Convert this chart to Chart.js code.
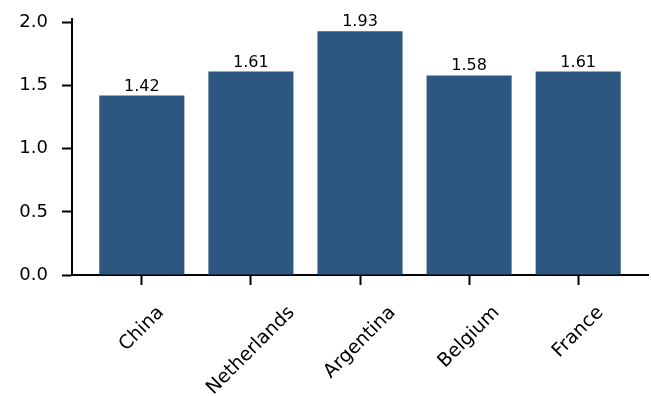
<!DOCTYPE html>
<html>
<head>
<meta charset="utf-8">
<script src="https://cdn.jsdelivr.net/npm/chart.js@4/dist/chart.umd.min.js"></script>
<style>
  html, body { margin: 0; padding: 0; background: #fff; }
  #chart { display: block; }
</style>
</head>
<body>
<canvas id="chart" width="651" height="396"></canvas>
<script>
// data
const countries = ['China', 'Netherlands', 'Argentina', 'Belgium', 'France'];
const values = [1.42, 1.61, 1.93, 1.58, 1.61];
const yTicks = [0, 0.5, 1.0, 1.5, 2.0];

const barColor = '#2b5781';
const fontFamily = '"DejaVu Sans", sans-serif';

// value labels above each bar
const valueLabels = {
    id: 'valueLabels',
    afterDatasetsDraw(chart) {
        const ctx = chart.ctx;
        const meta = chart.getDatasetMeta(0);
        ctx.save();
        ctx.font = '16px ' + fontFamily;
        ctx.fillStyle = '#000';
        ctx.textAlign = 'center';
        ctx.textBaseline = 'alphabetic';
        meta.data.forEach(function(bar, i) {
            ctx.fillText(values[i].toFixed(2), bar.x, bar.y - 5);
        });
        ctx.restore();
    }
};

// rotated category labels, centred under the tick like matplotlib
const rotatedLabels = {
    id: 'rotatedLabels',
    afterDraw(chart) {
        const ctx = chart.ctx;
        const xScale = chart.scales.x;
        const top = chart.chartArea.bottom + 28;
        const h = 19;
        ctx.save();
        ctx.font = '19px ' + fontFamily;
        ctx.fillStyle = '#000';
        ctx.textAlign = 'center';
        ctx.textBaseline = 'middle';
        countries.forEach(function(name, i) {
            const w = ctx.measureText(name).width;
            const side = (w + h) * Math.SQRT1_2;
            const x = xScale.getPixelForValue(i);
            ctx.save();
            ctx.translate(x, top + side / 2);
            ctx.rotate(-Math.PI / 4);
            ctx.fillText(name, 0, 0);
            ctx.restore();
        });
        ctx.restore();
    }
};

const chart = new Chart(document.getElementById('chart'), {
    type: 'bar',
    data: {
        datasets: [{
            data: countries.map(function(c, i) { return { x: i, y: values[i] }; }),
            backgroundColor: barColor,
            borderWidth: 0,
            categoryPercentage: 0.78,
            barPercentage: 1.0
        }]
    },
    options: {
        responsive: false,
        animation: false,
        layout: { padding: { top: 19, right: 3, left: 0, bottom: 0 } },
        plugins: {
            legend: { display: false },
            tooltip: { enabled: false }
        },
        scales: {
            x: {
                type: 'linear',
                offset: false,
                min: -0.64,
                max: 4.64,
                afterFit: function(scale) { scale.height = 121; },
                afterBuildTicks: function(scale) {
                    scale.ticks = countries.map(function(c, i) { return { value: i }; });
                },
                border: { display: true, color: '#000', width: 2 },
                grid: {
                    offset: false,
                    drawOnChartArea: false,
                    drawTicks: true,
                    tickLength: 10,
                    tickWidth: 2,
                    tickColor: '#000'
                },
                ticks: { display: false }
            },
            y: {
                min: 0,
                max: 2.0265,
                afterFit: function(scale) {
                    scale.width = 72;
                    // don't let the top label push the plot down
                    scale.paddingTop = 0;
                    scale.paddingBottom = 0;
                },
                afterBuildTicks: function(scale) {
                    scale.ticks = yTicks.map(function(v) { return { value: v }; });
                },
                border: { display: true, color: '#000', width: 2 },
                grid: {
                    drawOnChartArea: false,
                    drawTicks: true,
                    tickLength: 10,
                    tickWidth: 2,
                    tickColor: '#000'
                },
                ticks: {
                    padding: 14,
                    color: '#000',
                    font: { family: fontFamily, size: 18 },
                    callback: function(v) { return v.toFixed(1); }
                }
            }
        }
    },
    plugins: [valueLabels, rotatedLabels]
});
</script>
</body>
</html>
